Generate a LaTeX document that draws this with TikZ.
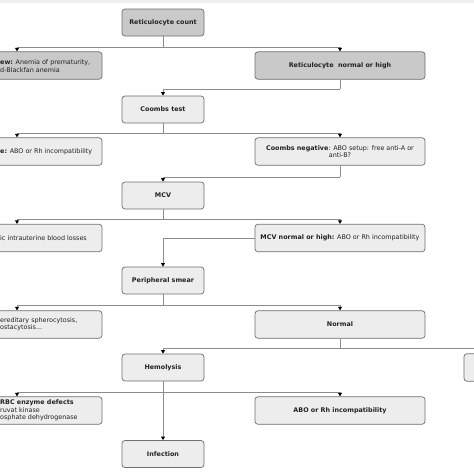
\documentclass[tikz,border=0pt]{standalone}
\usepackage{fontspec}
\setmainfont{DejaVu Sans}
\usetikzlibrary{arrows.meta}
\definecolor{boxdark}{HTML}{C9C9C9}
\definecolor{boxlight}{HTML}{EDEDED}
\definecolor{edgec}{HTML}{6E6E6E}
\definecolor{wirec}{HTML}{8C8C8C}
\definecolor{ink}{HTML}{222222}
\definecolor{band}{HTML}{EFEFEF}
\begin{document}
\begin{tikzpicture}[x=1pt,y=-1pt,
  bx/.style={draw=edgec, line width=0.7pt, rounded corners=3pt, inner sep=0pt,
    text=ink, align=center, font=\fontsize{6.4}{7.7}\selectfont},
  small/.style={bx, minimum width=82pt, minimum height=27pt},
  wide/.style={bx, minimum width=170pt, minimum height=27.5pt},
  dark/.style={fill=boxdark},
  light/.style={fill=boxlight},
  sidetext/.style={anchor=west, inner sep=0pt, align=left, text=ink,
    font=\fontsize{6.4}{7.4}\selectfont},
  wire/.style={draw=wirec, line width=0.9pt},
  arr/.style={wire, -{Triangle[length=3.5pt,width=3.8pt,color=black]}}
]
\useasboundingbox (0,0) rectangle (474,474);
\clip (0,0) rectangle (474,474);
\fill[band] (0,0) rectangle (474,2.5);

% row 1
\node[small,dark] (rc) at (163,22.5) {\textbf{Reticulocyte count}};
\node[wide,dark] (lowbox) at (17,65.5) {};
\node[sidetext] (lowtext) at (0,66) {\textbf{ew:} Anemia of prematurity,\\d-Blackfan anemia};
\node[wide,dark] (rnh) at (340,65.5) {\textbf{Reticulocyte~ normal or high}};

% row 2
\node[small,light] (coombs) at (163,109.5) {\textbf{Coombs test}};
\node[wide,light] (cpos) at (17,151.5) {};
\node[sidetext] (cpostext) at (0,151.5) {\textbf{e:} ABO or Rh incompatibility};
\node[wide,light] (cneg) at (340,151.5) {\textbf{Coombs negative}: ABO setup: free anti-A or\\anti-B?};

% row 3
\node[small,light] (mcv) at (163,195.5) {\textbf{MCV}};
\node[wide,light] (mlow) at (17,238) {};
\node[sidetext] (mlowtext) at (0,238) {ic intrauterine blood losses};
\node[wide,light] (mnh) at (340,238) {\textbf{MCV normal or high:} ABO or Rh incompatibility};

% row 4
\node[small,light] (ps) at (163,280.5) {\textbf{Peripheral smear}};
\node[wide,light] (abn) at (17,324.5) {};
\node[sidetext] (abntext) at (0,324.5) {ereditary spherocytosis,\\ostacytosis...};
\node[wide,light] (normal) at (340,324.5) {\textbf{Normal}};

% row 5
\node[small,light] (hem) at (163,367.5) {\textbf{Hemolysis}};
\node[wide,light] (rclip) at (549,367.5) {};
\node[wide,light] (rbc) at (17,410.5) {};
\node[sidetext] (rbctext) at (0,410.5) {\textbf{RBC enzyme defects}\\ruvat kinase\\osphate dehydrogenase};
\node[wide,light] (abo) at (340,410.5) {\textbf{ABO or Rh incompatibility}};
\node[small,light] (inf) at (163,454) {\textbf{Infection}};

% junctions
\coordinate (j1) at (163,47);
\coordinate (j2) at (340,89);
\coordinate (j3) at (163,133);
\coordinate (j4) at (340,177);
\coordinate (j5) at (163,219);
\coordinate (j6) at (163,305);
\coordinate (j7) at (340,348);
\coordinate (j8) at (163,392);

% connectors
\draw[wire] (rc.south) -- (j1);
\draw[arr] (j1) -| (lowbox.north);
\draw[arr] (j1) -| (rnh.north);
\draw[wire] (rnh.south) -- (j2);
\draw[arr] (j2) -| (coombs.north);

\draw[wire] (coombs.south) -- (j3);
\draw[arr] (j3) -| (cpos.north);
\draw[arr] (j3) -| (cneg.north);
\draw[wire] (cneg.south) -- (j4);
\draw[arr] (j4) -| (mcv.north);

\draw[wire] (mcv.south) -- (j5);
\draw[arr] (j5) -| (mlow.north);
\draw[arr] (j5) -| (mnh.north);
\draw[arr] (mnh.west) -| (ps.north);

\draw[wire] (ps.south) -- (j6);
\draw[arr] (j6) -| (abn.north);
\draw[arr] (j6) -| (normal.north);
\draw[wire] (normal.south) -- (j7);
\draw[arr] (j7) -| (hem.north);
\draw[arr] (j7) -| (rclip.north);

\draw[arr] (hem.south) -- (inf.north);
\draw[arr] (j8) -| (rbc.north);
\draw[arr] (j8) -| (abo.north);
\end{tikzpicture}
\end{document}
